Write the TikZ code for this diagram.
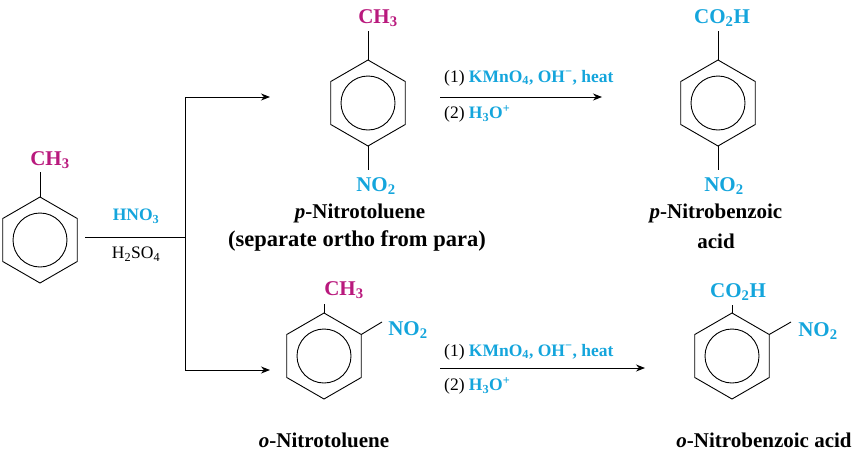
\documentclass[tikz,border=0pt]{standalone}
\usepackage{fontspec}
\setmainfont{Liberation Serif}
\usetikzlibrary{arrows.meta}
\definecolor{mag}{RGB}{185,25,125}
\definecolor{cy}{RGB}{20,165,220}
\newcommand{\sbs}[1]{\textsubscript{#1}}
\newcommand{\sps}[1]{\textsuperscript{#1}}
\tikzset{
 lbl/.style={font=\bfseries\fontsize{21}{24}\selectfont,inner sep=1pt},
 reag/.style={font=\fontsize{17.5}{20}\selectfont,inner sep=1pt},
 bond/.style={line width=0.9pt},
 arr/.style={line width=0.9pt,-{Stealth[length=9pt,width=7pt]}},
 ring/.pic={\draw[bond] (90:43)--(150:43)--(210:43)--(270:43)--(330:43)--(30:43)--cycle; \draw[bond] (0,0) circle (27);}
}
\begin{document}
\begin{tikzpicture}[x=1pt,y=-1pt]
\useasboundingbox (0,0) rectangle (864,453);
% toluene
\pic at (40,240) {ring};
\node[lbl,text=mag] (t1) at (50,160) {CH\sbs{3}};
\coordinate (tv) at (40,197);
\draw[bond] (tv)--(40,172);
% reagents
\coordinate (a0) at (85,237);
\coordinate (a1) at (185,237);
\coordinate (au) at (185,97);
\coordinate (ad) at (185,370);
\node (pt) at (270,97) {};
\node (ot) at (270,370) {};
\draw[bond] (a0)--(a1);
\draw[bond] (au)--(ad);
\draw[arr] (au)--(pt.center);
\draw[arr] (ad)--(ot.center);
\node[reag,text=cy,font=\bfseries\fontsize{17.5}{20}\selectfont] (hno) at (136,216) {HNO\sbs{3}};
\node[reag] (hso) at (136,254) {H\sbs{2}SO\sbs{4}};
% p-nitrotoluene
\pic at (368,103) {ring};
\node[lbl,text=mag] (p1) at (378,18) {CH\sbs{3}};
\node[lbl,text=cy] (p2) at (376,186) {NO\sbs{2}};
\coordinate (pv1) at (368,60); \coordinate (pv2) at (368,146);
\draw[bond] (pv1)--(368,31); \draw[bond] (pv2)--(368,170);
\node[lbl] (pl1) at (360,213) {\textit{p}-Nitrotoluene};
\node[lbl] (pl2) at (357,241) {\fontsize{22.5}{24}\selectfont(separate ortho from para)};
% top reaction arrow
\coordinate (r1a) at (440,97); \node (r1b) at (602,97) {};
\draw[arr] (r1a)--(r1b.center);
\node[reag,anchor=west] (r1t) at (443,78) {(1) \textcolor{cy}{\bfseries KMnO\sbs{4}, OH\sps{−}, heat}};
\node[reag,anchor=west] (r1u) at (443,114) {(2) \textcolor{cy}{\bfseries H\sbs{3}O\sps{+}}};
% p-nitrobenzoic acid
\pic at (718,103) {ring};
\node[lbl,text=cy] (q1) at (722,18) {CO\sbs{2}H};
\node[lbl,text=cy] (q2) at (724,186) {NO\sbs{2}};
\coordinate (qv1) at (718,60); \coordinate (qv2) at (718,146);
\draw[bond] (qv1)--(718,31); \draw[bond] (qv2)--(718,170);
\node[lbl] (ql1) at (716,213) {\textit{p}-Nitrobenzoic};
\node[lbl] (ql2) at (716,241) {acid};
% o-nitrotoluene
\pic at (324,356) {ring};
\node[lbl,text=mag] (o1) at (344,290) {CH\sbs{3}};
\node[lbl,text=cy] (o2) at (408,330) {NO\sbs{2}};
\coordinate (ov1) at (324,313); \coordinate (ov2) at (361.2,334.5);
\draw[bond] (ov1)--(324,304);
\draw[bond] (ov2)--(382,322);
\node[lbl] (ol) at (324,440) {\textit{o}-Nitrotoluene};
% bottom reaction arrow
\coordinate (r2a) at (440,368); \node (r2b) at (645,368) {};
\draw[arr] (r2a)--(r2b.center);
\node[reag,anchor=west] (r2t) at (443,352) {(1) \textcolor{cy}{\bfseries KMnO\sbs{4}, OH\sps{−}, heat}};
\node[reag,anchor=west] (r2u) at (443,386) {(2) \textcolor{cy}{\bfseries H\sbs{3}O\sps{+}}};
% o-nitrobenzoic acid
\pic at (732,356) {ring};
\node[lbl,text=cy] (b1) at (738,292) {CO\sbs{2}H};
\node[lbl,text=cy] (b2) at (818,331) {NO\sbs{2}};
\coordinate (bv1) at (732,313); \coordinate (bv2) at (769.2,334.5);
\draw[bond] (bv1)--(732,305);
\draw[bond] (bv2)--(791,322);
\node[lbl] (bl) at (764,440) {\textit{o}-Nitrobenzoic acid};
\end{tikzpicture}
\end{document}
